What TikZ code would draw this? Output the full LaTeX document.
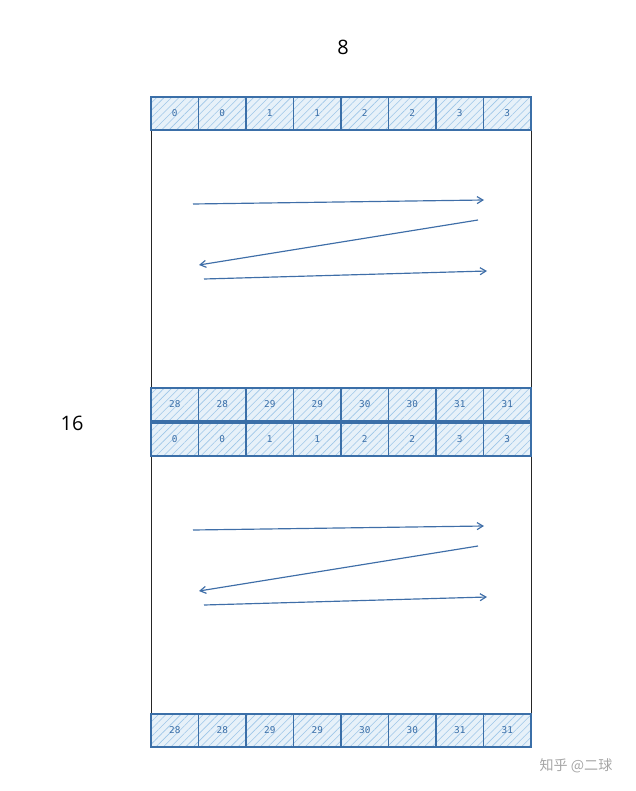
\documentclass[tikz,border=0pt]{standalone}
\usepackage{fontspec}
\setmainfont{Open Sans}
\setmonofont{DejaVu Sans Mono}
\newfontfamily\cjk{Noto Sans CJK SC}
\usetikzlibrary{arrows.meta,patterns.meta,positioning}
\definecolor{cellblue}{HTML}{3B6FA8}
\definecolor{hatchblue}{HTML}{9EC6E8}
\definecolor{arrowblue}{HTML}{3F6EA8}

\tikzset{
	cell/.style={draw=cellblue, line width=1.5pt, minimum width=1.425cm, minimum height=0.99cm, inner sep=0pt,
		text=cellblue, font=\ttfamily\fontsize{8}{9}\selectfont,
		preaction={fill=hatchblue!25},
		pattern={Lines[angle=45,distance=4.5pt,line width=0.5pt]}, pattern color=hatchblue},
	frame/.style={draw=black!85, line width=0.7pt},
	scan/.style={-{Straight Barb[length=5pt,width=6pt]}, draw=arrowblue, line width=1pt}
}

\begin{document}
\begin{tikzpicture}[x=0.03cm,y=-0.03cm]
	\useasboundingbox (0,0) rectangle (635,791);
	\node[font=\fontsize{17}{20}\selectfont] (cols) at (343,47) {8};
	\node[font=\fontsize{17}{20}\selectfont] (rows) at (72,423) {16};
	% two blocks of 8 columns
	\foreach \k/\dy in {1/0, 2/326}{
		\draw[frame] (151,97+\dy) rectangle (531,421+\dy);
		\foreach \i in {0,...,7}{
			\pgfmathtruncatemacro\v{\i/2}
			\pgfmathtruncatemacro\w{\v+28}
			\node[cell] (top\k\i) at ({151+47.5*(\i+0.5)},113.5+\dy) {\v};
			\node[cell] (bot\k\i) at ({151+47.5*(\i+0.5)},404.5+\dy) {\w};
		}
		\coordinate (s\k a) at (193,204+\dy);
		\coordinate (e\k a) at (484,200+\dy);
		\coordinate (s\k b) at (478,220+\dy);
		\coordinate (e\k b) at (199,265+\dy);
		\coordinate (s\k c) at (204,279+\dy);
		\coordinate (e\k c) at (487,271+\dy);
		\draw[scan] (s\k a) -- (e\k a);
		\draw[scan] (s\k b) -- (e\k b);
		\draw[scan] (s\k c) -- (e\k c);
	}
	\node[text=black!35, font=\cjk\fontsize{12}{14}\selectfont] (mark) at (576,766) {知乎 @二球};
\end{tikzpicture}
\end{document}
